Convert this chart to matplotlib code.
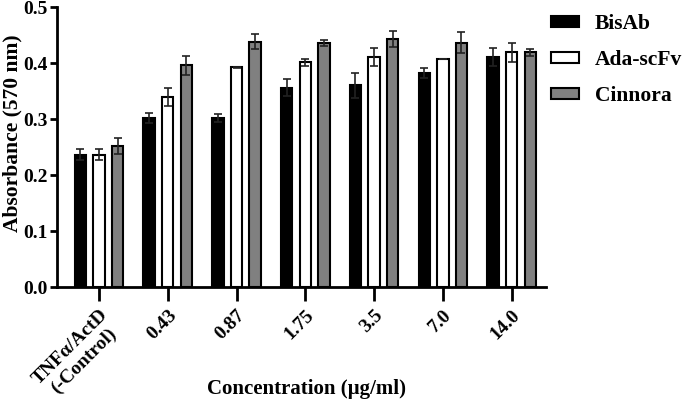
import numpy as np
import matplotlib
matplotlib.use("Agg")
import matplotlib.pyplot as plt

# Data
categories = ["TNF\u03b1/ActD\n(-Control)", "0.43", "0.87", "1.75", "3.5", "7.0", "14.0"]
series_names = ["BisAb", "Ada-scFv", "Cinnora"]
bisab = [0.236, 0.302, 0.302, 0.356, 0.360, 0.382, 0.410]
bisab_err = [0.010, 0.009, 0.007, 0.015, 0.023, 0.009, 0.016]
ada = [0.236, 0.340, 0.392, 0.401, 0.410, 0.408, 0.419]
ada_err = [0.010, 0.016, 0.001, 0.007, 0.016, 0.000, 0.017]
cinnora = [0.252, 0.396, 0.438, 0.436, 0.443, 0.436, 0.419]
cinnora_err = [0.014, 0.017, 0.013, 0.005, 0.014, 0.019, 0.006]

plt.rcParams['font.family'] = ['Liberation Serif', 'DejaVu Serif']
plt.rcParams['font.weight'] = 'bold'

fig = plt.figure(figsize=(6.85, 4.05), dpi=100)
ax = fig.add_axes([57 / 685, 1 - 287 / 405, (546 - 57) / 685, (287 - 7) / 405])

x = np.arange(len(categories))
width = 0.165
offset = 0.27
styles = [
    (bisab, bisab_err, 'black'),
    (ada, ada_err, 'white'),
    (cinnora, cinnora_err, '#808080'),
]
for k, (vals, errs, color) in enumerate(styles):
    pos = x + (k - 1) * offset
    ax.bar(pos, vals, width, color=color, edgecolor='black', linewidth=1.5,
           label=series_names[k], zorder=2)
    ax.errorbar(pos, vals, yerr=errs, fmt='none', ecolor='#222222',
                elinewidth=1.2, capsize=3, capthick=1.2, zorder=3)

ax.set_xlim(-0.61, 6.5)
ax.set_ylim(0, 0.5)
ax.set_yticks([0.0, 0.1, 0.2, 0.3, 0.4, 0.5])
ax.set_yticklabels(['0.0', '0.1', '0.2', '0.3', '0.4', '0.5'])
ax.set_xticks(x)
ax.set_xticklabels(categories, rotation=45, ha='right', rotation_mode='anchor',
                   multialignment='center')

for side in ['top', 'right']:
    ax.spines[side].set_visible(False)
for side in ['left', 'bottom']:
    ax.spines[side].set_linewidth(2)
ax.tick_params(axis='y', length=5, width=2, labelsize=14, pad=2)
ax.tick_params(axis='x', length=10, width=2, labelsize=14, pad=4)

ax.set_ylabel('Absorbance (570 nm)', fontsize=15.5, fontweight='bold', va='center')
ax.yaxis.set_label_coords(-0.092, 0.55)
ax.set_xlabel('Concentration (\u00b5g/ml)', fontsize=15, fontweight='bold')
ax.xaxis.set_label_coords(0.51, -0.33)

fig.legend(loc='upper left', bbox_to_anchor=(551 / 685, 1 - 14 / 405),
           bbox_transform=fig.transFigure, frameon=False,
           fontsize=15.5, handlelength=1.3, handleheight=0.45,
           labelspacing=0.75, handletextpad=0.75, borderpad=0,
           borderaxespad=0)

fig.savefig('out.png', dpi=100)
